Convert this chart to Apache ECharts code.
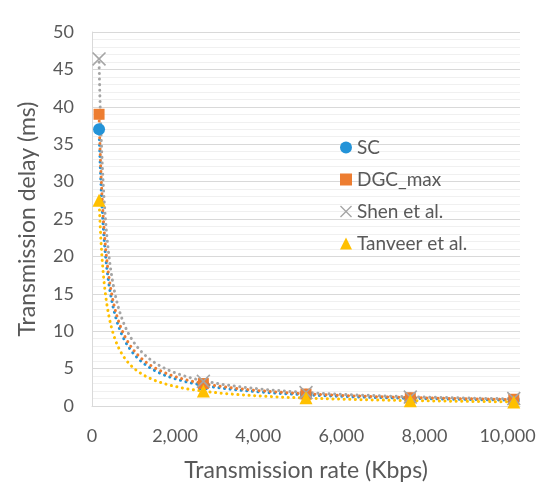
<!DOCTYPE html>
<html>
<head>
<meta charset="utf-8">
<script src="https://cdn.jsdelivr.net/npm/echarts@6/dist/echarts.min.js"></script>
<style>
  html, body { margin: 0; padding: 0; background: #fff; }
  #chart { width: 550px; height: 492px; }
</style>
</head>
<body>
<div id="chart"></div>
<script>
// transmission rate (Kbps) for each measured point
const rates = [170, 2680, 5150, 7660, 10150]

// transmission delay (ms) per scheme
const scDelay = [37, 2.8, 1.5, 1.0, 0.8]
const dgcMaxDelay = [39, 3.0, 1.6, 1.1, 0.9]
const shenDelay = [46.4, 3.3, 1.8, 1.2, 1.0]
const tanveerDelay = [27.5, 2.0, 1.1, 0.7, 0.55]

const yTicks = [0, 50, 5]   // min, max, step
const xTicks = [0, 10300, 2000]

const schemes = [
  { name: 'SC', values: scDelay, color: '#2393D8', symbol: 'circle', size: 12 },
  { name: 'DGC_max', values: dgcMaxDelay, color: '#ED7D31', symbol: 'rect', size: 11 },
  { name: 'Shen et al.', values: shenDelay, color: '#A5A5A5',
    symbol: 'path://M0,0.8L0.8,0L5,4.2L9.2,0L10,0.8L5.8,5L10,9.2L9.2,10L5,5.8L0.8,10L0,9.2L4.2,5Z', size: 14 },
  { name: 'Tanveer et al.', values: tanveerDelay, color: '#FFC000', symbol: 'triangle', size: 13 }
]

// power trendline (least squares in log space, like the spreadsheet's "power" fit)
function powerTrend (xs, ys) {
  const n = xs.length
  let sx = 0, sy = 0, sxx = 0, sxy = 0
  for (let i = 0; i < n; i++) {
    const lx = Math.log(xs[i]), ly = Math.log(ys[i])
    sx += lx; sy += ly; sxx += lx * lx; sxy += lx * ly
  }
  const b = (n * sxy - sx * sy) / (n * sxx - sx * sx)
  const a = Math.exp((sy - b * sx) / n)
  const pts = []
  const lo = Math.log(xs[0]), hi = Math.log(xs[n - 1])
  for (let k = 0; k <= 300; k++) {
    const x = Math.exp(lo + (hi - lo) * k / 300)
    pts.push([x, a * Math.pow(x, b)])
  }
  return pts
}

const series = []
schemes.forEach(s => {
  series.push({
    name: s.name + ' trend',
    type: 'line',
    data: powerTrend(rates, s.values),
    showSymbol: false,
    silent: true,
    z: 1,
    lineStyle: { color: s.color, width: 3, type: [0.1, 5.5], cap: 'round' }
  })
})
schemes.forEach(s => {
  series.push({
    name: s.name,
    type: 'scatter',
    data: rates.map((r, i) => [r, s.values[i]]),
    symbol: s.symbol,
    symbolSize: s.size,
    z: 3,
    itemStyle: { color: s.color, opacity: 1 }
  })
})

const chart = echarts.init(document.getElementById('chart'))
chart.setOption({
  animation: false,
  textStyle: { fontFamily: 'Lato' },
  grid: { left: 92, right: 30, top: 32, bottom: 86 },
  legend: {
    data: schemes.map(s => ({ name: s.name, icon: s.symbol })),
    orient: 'vertical',
    left: 335,
    top: 133,
    itemWidth: 12,
    itemHeight: 12,
    itemGap: 13,
    textStyle: { fontSize: 19, color: '#595959', fontFamily: 'Lato' }
  },
  xAxis: {
    type: 'value',
    min: xTicks[0],
    max: xTicks[1],
    interval: xTicks[2],
    name: 'Transmission rate (Kbps)',
    nameLocation: 'middle',
    nameGap: 53,
    nameTextStyle: { fontSize: 23, color: '#595959' },
    axisLine: { show: true, lineStyle: { color: '#D9D9D9', width: 1 } },
    axisTick: { show: false },
    splitLine: { show: false },
    axisLabel: {
      fontSize: 18,
      color: '#595959',
      margin: 21,
      showMaxLabel: false,
      formatter: v => v.toLocaleString('en-US')
    }
  },
  yAxis: {
    type: 'value',
    min: yTicks[0],
    max: yTicks[1],
    interval: yTicks[2],
    name: 'Transmission delay (ms)',
    nameLocation: 'middle',
    nameGap: 53,
    nameTextStyle: { fontSize: 23, color: '#595959' },
    axisLine: { show: true, lineStyle: { color: '#D9D9D9', width: 1 } },
    axisTick: { show: false },
    axisLabel: { fontSize: 18, color: '#595959', margin: 18 },
    splitLine: { lineStyle: { color: '#D9D9D9', width: 1 } },
    minorTick: { show: false, splitNumber: 5 },
    minorSplitLine: { show: true, lineStyle: { color: '#F0F0F0', width: 1 } }
  },
  series: series
})
</script>
</body>
</html>
